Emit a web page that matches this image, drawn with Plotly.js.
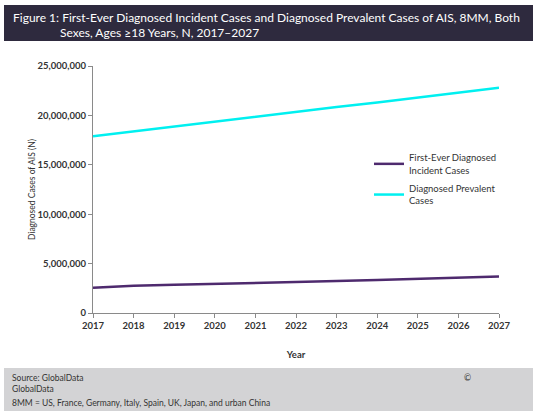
<!DOCTYPE html>
<html>
<head>
<meta charset="utf-8">
<script src="https://cdn.plot.ly/plotly-3.0.1.min.js"></script>
<style>
  html, body { margin: 0; padding: 0; background: #fff; }
  #chart { width: 541px; height: 418px; }
</style>
</head>
<body>
<div id="chart"></div>
<script>
let years = [2017, 2018, 2019, 2020, 2021, 2022, 2023, 2024, 2025, 2026, 2027];
let incident_cases = [2550000, 2770000, 2850000, 2930000, 3020000, 3150000, 3230000, 3350000, 3450000, 3600000, 3700000];
let prevalent_cases = [17900000, 18400000, 18900000, 19400000, 19900000, 20400000, 20850000, 21300000, 21800000, 22300000, 22800000];
let y_ticks = [0, 5000000, 10000000, 15000000, 20000000, 25000000];
let y_tick_labels = ["0", "5,000,000", "10,000,000", "15,000,000", "20,000,000", "25,000,000"];

// plot area in pixels
const W = 541, H = 418;
const L = 93, T = 66, R = 499, B = 313;
const pw = R - L, ph = B - T;
function px(x) { return (x - L) / pw; }
function py(y) { return 1 - (y - T) / ph; }

const font = "Lato, 'Open Sans', sans-serif";

let incident = {
    x: years,
    y: incident_cases,
    mode: 'lines',
    name: 'First-Ever Diagnosed<br>Incident Cases',
    legendgroup: 'incident',
    line: {color: '#4e2a6e', width: 2.5}
};

let prevalent = {
    x: years,
    y: prevalent_cases,
    mode: 'lines',
    name: 'Diagnosed Prevalent<br>Cases',
    legendgroup: 'prevalent',
    line: {color: '#00f0f0', width: 2.5}
};

let layout = {
    width: W,
    height: H,
    margin: {l: L, r: W - R, t: T, b: H - B, pad: 0},
    paper_bgcolor: '#ffffff',
    plot_bgcolor: '#ffffff',
    font: {family: font, color: '#333333'},
    showlegend: true,
    legend: {
        x: px(369), y: py(145), xanchor: 'left', yanchor: 'top',
        font: {family: font, size: 9.5, color: '#333333'},
        itemwidth: 30, traceorder: 'grouped', tracegroupgap: 3,
        bgcolor: 'rgba(0,0,0,0)'
    },
    xaxis: {
        range: [2017, 2027],
        tickvals: years,
        ticktext: years.map(String),
        showgrid: false, zeroline: false,
        showline: true, linecolor: '#8a8a8a', linewidth: 1,
        ticks: 'outside', ticklen: 4, tickcolor: '#8a8a8a',
        tickfont: {family: font, size: 9.5, color: '#333333', weight: 'bold'},
        title: {text: 'Year', font: {family: font, size: 9.5, color: '#333333', weight: 'bold'}, standoff: 20}
    },
    yaxis: {
        range: [0, 25000000],
        tickvals: y_ticks,
        ticktext: y_tick_labels,
        showgrid: false, zeroline: false,
        showline: true, linecolor: '#8a8a8a', linewidth: 1,
        ticks: 'outside', ticklen: 4, tickcolor: '#8a8a8a',
        tickfont: {family: font, size: 9.5, color: '#333333', weight: 'bold'},
        title: {text: 'Diagnosed Cases of AIS (N)', font: {family: font, size: 8.5, color: '#333333'}, standoff: 0}
    },
    shapes: [
        {type: 'rect', xref: 'paper', yref: 'paper', x0: px(4), x1: px(533), y0: py(41), y1: py(5),
         fillcolor: '#2e2a3e', line: {width: 0}, layer: 'below'},
        {type: 'rect', xref: 'paper', yref: 'paper', x0: px(4), x1: px(533), y0: py(411), y1: py(368),
         fillcolor: '#d3d3d5', line: {width: 0}, layer: 'below'}
    ],
    annotations: [
        {text: 'Figure 1: First-Ever Diagnosed Incident Cases and Diagnosed Prevalent Cases of AIS, 8MM, Both',
         xref: 'paper', yref: 'paper', x: px(11), y: py(18), xanchor: 'left', yanchor: 'middle',
         showarrow: false, font: {family: font, size: 12, color: '#ffffff'}},
        {text: 'Sexes, Ages \u226518 Years, N, 2017\u20132027',
         xref: 'paper', yref: 'paper', x: px(58), y: py(32), xanchor: 'left', yanchor: 'middle',
         showarrow: false, font: {family: font, size: 12, color: '#ffffff'}},
        {text: 'Source: GlobalData',
         xref: 'paper', yref: 'paper', x: px(10), y: py(378), xanchor: 'left', yanchor: 'middle',
         showarrow: false, font: {family: font, size: 8.5, color: '#333333'}},
        {text: '\u00a9',
         xref: 'paper', yref: 'paper', x: px(462), y: py(378), xanchor: 'left', yanchor: 'middle',
         showarrow: false, font: {family: font, size: 8.5, color: '#333333'}},
        {text: 'GlobalData',
         xref: 'paper', yref: 'paper', x: px(10), y: py(389), xanchor: 'left', yanchor: 'middle',
         showarrow: false, font: {family: font, size: 8.5, color: '#333333'}},
        {text: '8MM = US, France, Germany, Italy, Spain, UK, Japan, and urban China',
         xref: 'paper', yref: 'paper', x: px(10), y: py(403), xanchor: 'left', yanchor: 'middle',
         showarrow: false, font: {family: font, size: 8.5, color: '#333333'}}
    ]
};

Plotly.newPlot('chart', [incident, prevalent], layout, {displayModeBar: false, staticPlot: true});
</script>
</body>
</html>
